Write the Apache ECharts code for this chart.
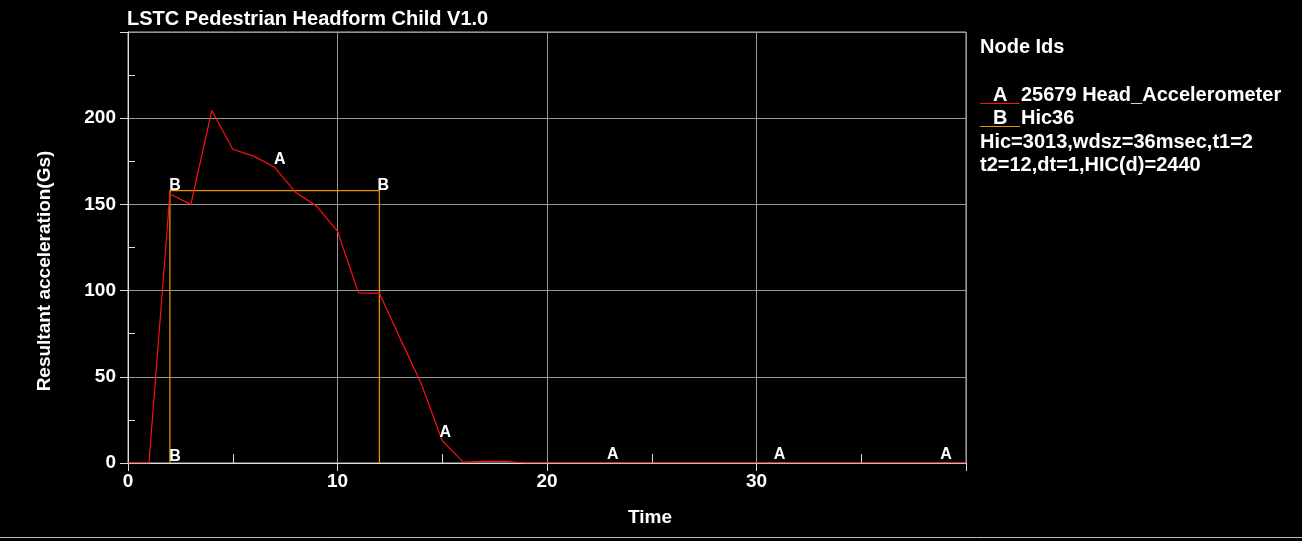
<!DOCTYPE html>
<html>
<head>
<meta charset="utf-8">
<script src="https://cdn.jsdelivr.net/npm/echarts@6/dist/echarts.min.js"></script>
<style>
html,body{margin:0;padding:0;background:#000;}
#c{width:1302px;height:541px;}
</style>
</head>
<body>
<div id="c"></div>
<script>
// Curve A: Head_Accelerometer resultant acceleration (Gs) vs time
const timeA = [0,1,2,3,4,5,6,7,8,9,10,11,12,13,14,15,16,17,18,19,20,25,30,35,40];
const accelA = [0,0,156,150,204.5,182,178,171.5,157,149,134.5,98.7,98.4,72,46,13,0.5,1,1,0,0,0,0,0,0];
// Curve B: Hic36 window
const timeB = [2,2,12,12];
const valueB = [0,158,158,0];
// Curve identifier labels
const labelsA_t = [7.24,15.14,23.14,31.1,39.05];
const labelsA_y = [175.7,17.4,4.6,4.6,4.6];
const labelsB_t = [2.24,12.19,2.24];
const labelsB_y = [161,161,3.5];
// Axis ticks
const xTicks = [0,10,20,30,40];
const yTicks = [0,50,100,150,200,250];

const FONT = 'Liberation Sans, Arial, sans-serif';
const FS = 19;
const FT = 20;
const chart = echarts.init(document.getElementById('c'));
const zip = (a,b) => a.map((v,i)=>[v,b[i]]);
const txt = (x,y,t,fs) => ({type:'text',style:{x:x,y:y,text:t,fill:'#fff',
  font:'bold '+(fs||FT)+'px '+FONT,verticalAlign:'middle'}});

chart.setOption({
  backgroundColor:'#000',
  animation:false,
  grid:{left:128,right:336,top:32,bottom:78,show:true,borderColor:'#bbb',borderWidth:1,backgroundColor:'transparent'},
  xAxis:{type:'value',min:0,max:40,interval:10,
    axisLine:{show:true,lineStyle:{color:'#ddd',width:1}},
    axisTick:{show:true,length:8,lineStyle:{color:'#ddd'}},
    minorTick:{show:true,splitNumber:2,length:-9,lineStyle:{color:'#ddd'}},
    axisLabel:{color:'#fff',fontFamily:FONT,fontWeight:'bold',fontSize:FS,margin:9,
      formatter:v=> v===40?'':String(v)},
    splitLine:{show:true,lineStyle:{color:'#999',width:1}}},
  yAxis:{type:'value',min:0,max:250,interval:50,
    axisLine:{show:true,lineStyle:{color:'#ddd',width:1}},
    axisTick:{show:true,length:8,lineStyle:{color:'#ddd'}},
    minorTick:{show:true,splitNumber:2,length:-7,lineStyle:{color:'#ddd'}},
    axisLabel:{color:'#fff',fontFamily:FONT,fontWeight:'bold',fontSize:FS,margin:12,
      formatter:v=> v===250?'':String(v)},
    splitLine:{show:true,lineStyle:{color:'#999',width:1}}},
  series:[
    {type:'line',name:'B',data:zip(timeB,valueB),symbol:'none',
      lineStyle:{color:'#e89000',width:1.3},z:3},
    {type:'line',name:'A',data:zip(timeA,accelA),symbol:'none',
      lineStyle:{color:'#ff1010',width:1.2},z:4},
    {type:'scatter',data:zip(labelsA_t,labelsA_y),symbolSize:0,z:5,itemStyle:{opacity:1},
      label:{show:true,position:'inside',formatter:'A',color:'#ffffff',fontFamily:FONT,fontWeight:'bold',fontSize:16}},
    {type:'scatter',data:zip(labelsB_t,labelsB_y),symbolSize:0,z:5,itemStyle:{opacity:1},
      label:{show:true,position:'inside',formatter:'B',color:'#ffffff',fontFamily:FONT,fontWeight:'bold',fontSize:16}}
  ],
  graphic:[
    txt(127,19,'LSTC Pedestrian Headform Child V1.0'),
    {type:'text',x:650,y:518,
      style:{x:0,y:0,text:'Time',fill:'#fff',font:'bold '+FS+'px '+FONT,align:'center',verticalAlign:'middle'}},
    {type:'text',x:45,y:271,rotation:Math.PI/2,
      style:{x:0,y:0,text:'Resultant acceleration(Gs)',fill:'#fff',font:'bold '+FS+'px '+FONT,align:'center',verticalAlign:'middle'}},
    txt(980,47,'Node Ids'),
    txt(993,95,'A'),
    txt(1021,95,'25679 Head_Accelerometer'),
    {type:'line',shape:{x1:980,y1:103.5,x2:1020,y2:103.5},style:{stroke:'#ff1010',lineWidth:1}},
    txt(993,118,'B'),
    txt(1021,118,'Hic36'),
    {type:'line',shape:{x1:980,y1:126.5,x2:1020,y2:126.5},style:{stroke:'#e89000',lineWidth:1}},
    txt(980,142,'Hic=3013,wdsz=36msec,t1=2'),
    txt(980,165,'t2=12,dt=1,HIC(d)=2440'),
    {type:'line',shape:{x1:0,y1:537.5,x2:1302,y2:537.5},style:{stroke:'#bbb',lineWidth:1}}
  ]
});
</script>
</body>
</html>
